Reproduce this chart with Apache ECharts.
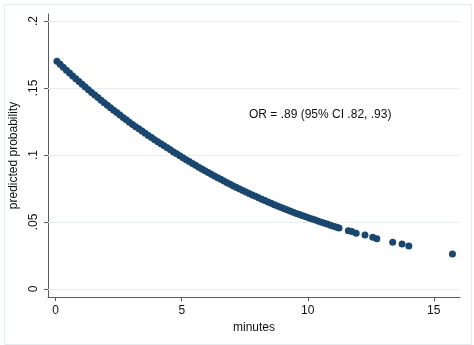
<!DOCTYPE html>
<html>
<head>
<meta charset="utf-8">
<script src="https://cdn.jsdelivr.net/npm/echarts@6/dist/echarts.min.js"></script>
<style>
html,body{margin:0;padding:0;background:#fff;}
#c{width:474px;height:345px;}
</style>
</head>
<body>
<div id="c"></div>
<script>
// values
const minutes = [
  0.05,0.175,0.30,0.425,0.55,0.675,0.80,0.925,1.05,1.175,1.30,1.425,1.55,1.675,1.80,1.925,
  2.05,2.175,2.30,2.425,2.55,2.675,2.80,2.925,3.05,3.175,3.30,3.425,3.55,3.675,3.80,3.925,
  4.05,4.175,4.30,4.425,4.55,4.675,4.80,4.925,5.05,5.175,5.30,5.425,5.55,5.675,5.80,5.925,
  6.05,6.175,6.30,6.425,6.55,6.675,6.80,6.925,7.05,7.175,7.30,7.425,7.55,7.675,7.80,7.925,
  8.05,8.175,8.30,8.425,8.55,8.675,8.80,8.925,9.05,9.175,9.30,9.425,9.55,9.675,9.80,9.925,
  10.05,10.175,10.30,10.425,10.55,10.675,10.80,10.925,11.05,11.15,11.24,
  11.61,11.75,11.92,12.27,12.58,12.74,13.37,13.74,14.01,15.74];
const predictedProbability = [
  0.1700,0.1677,0.1655,0.1633,0.1612,0.1590,0.1569,0.1548,0.1528,0.1507,0.1487,0.1467,0.1448,0.1428,0.1409,0.1390,
  0.1371,0.1352,0.1334,0.1316,0.1298,0.1280,0.1263,0.1245,0.1228,0.1211,0.1195,0.1178,0.1162,0.1146,0.1130,0.1114,
  0.1098,0.1083,0.1068,0.1053,0.1038,0.1023,0.1009,0.0994,0.0980,0.0965,0.0951,0.0937,0.0923,0.0909,0.0896,0.0882,
  0.0869,0.0856,0.0843,0.0830,0.0818,0.0805,0.0793,0.0781,0.0769,0.0757,0.0746,0.0734,0.0723,0.0712,0.0702,0.0691,
  0.0680,0.0670,0.0660,0.0649,0.0639,0.0629,0.0620,0.0610,0.0601,0.0591,0.0582,0.0573,0.0564,0.0555,0.0547,0.0538,
  0.0530,0.0522,0.0514,0.0506,0.0498,0.0490,0.0482,0.0474,0.0467,0.0461,0.0455,
  0.0435,0.0428,0.0416,0.0403,0.0386,0.0375,0.0348,0.0336,0.0321,0.0261];
const xTickValues = [0, 5, 10, 15];
const xTickLabels = ['0', '5', '10', '15'];
const yTickValues = [0, 0.05, 0.1, 0.15, 0.2];
const yTickLabels = ['0', '.05', '.1', '.15', '.2'];
const xTitle = 'minutes';
const yTitle = 'predicted probability';
const annotation = 'OR = .89 (95% CI .82, .93)';

const FONT = '"Liberation Sans", Arial, sans-serif';
const chart = echarts.init(document.getElementById('c'), null, {renderer: 'canvas'});
const pts = minutes.map((m, i) => [m, predictedProbability[i]]);
const lookup = (vals, labs) => v => {
  const i = vals.findIndex(t => Math.abs(t - v) < 1e-9);
  return i >= 0 ? labs[i] : '';
};
chart.setOption({
  animation: false,
  backgroundColor: '#ffffff',
  grid: {left: 48, right: 14, top: 14, bottom: 48, containLabel: false},
  xAxis: {
    type: 'value', min: -0.305, max: 16.04,
    name: xTitle, nameLocation: 'middle', nameGap: 19,
    nameTextStyle: {fontFamily: FONT, fontSize: 12, color: '#111'},
    axisLine: {show: true, onZero: false, lineStyle: {color: '#5a5a5a', width: 1}},
    axisTick: {show: true, length: 4, customValues: xTickValues, lineStyle: {color: '#5a5a5a'}},
    axisLabel: {customValues: xTickValues, margin: 8, fontFamily: FONT, fontSize: 12, color: '#111',
      formatter: lookup(xTickValues, xTickLabels)},
    splitLine: {show: false}
  },
  yAxis: {
    type: 'value', min: -0.006, max: 0.2052,
    name: yTitle, nameLocation: 'middle', nameGap: 20,
    nameTextStyle: {fontFamily: FONT, fontSize: 12, color: '#111'},
    axisLine: {show: true, onZero: false, lineStyle: {color: '#5a5a5a', width: 1}},
    axisTick: {show: true, length: 4, customValues: yTickValues, lineStyle: {color: '#5a5a5a'}},
    axisLabel: {customValues: yTickValues, rotate: 90, margin: 8, fontFamily: FONT, fontSize: 12, color: '#111',
      formatter: lookup(yTickValues, yTickLabels)},
    splitLine: {show: false}
  },
  series: [
    {
      type: 'line', data: [], z: 1, silent: true,
      markLine: {
        z: 1, silent: true, symbol: 'none', animation: false,
        label: {show: false},
        lineStyle: {color: '#e8edf0', type: 'solid', width: 1},
        data: yTickValues.map(v => ({yAxis: v}))
      }
    },
    {
      type: 'scatter', z: 3, data: pts, symbol: 'circle', symbolSize: 7,
      itemStyle: {color: '#1a476f', opacity: 1}
    }
  ],
  graphic: [
    {type: 'rect', left: 2, top: 2, z: -1, silent: true,
      shape: {width: 467, height: 340},
      style: {fill: 'none', stroke: '#e4ebef', lineWidth: 1}},
    {type: 'text', left: 249, top: 109, silent: true,
      style: {text: annotation, font: '12px ' + FONT, fill: '#111'}}
  ]
});
</script>
</body>
</html>
